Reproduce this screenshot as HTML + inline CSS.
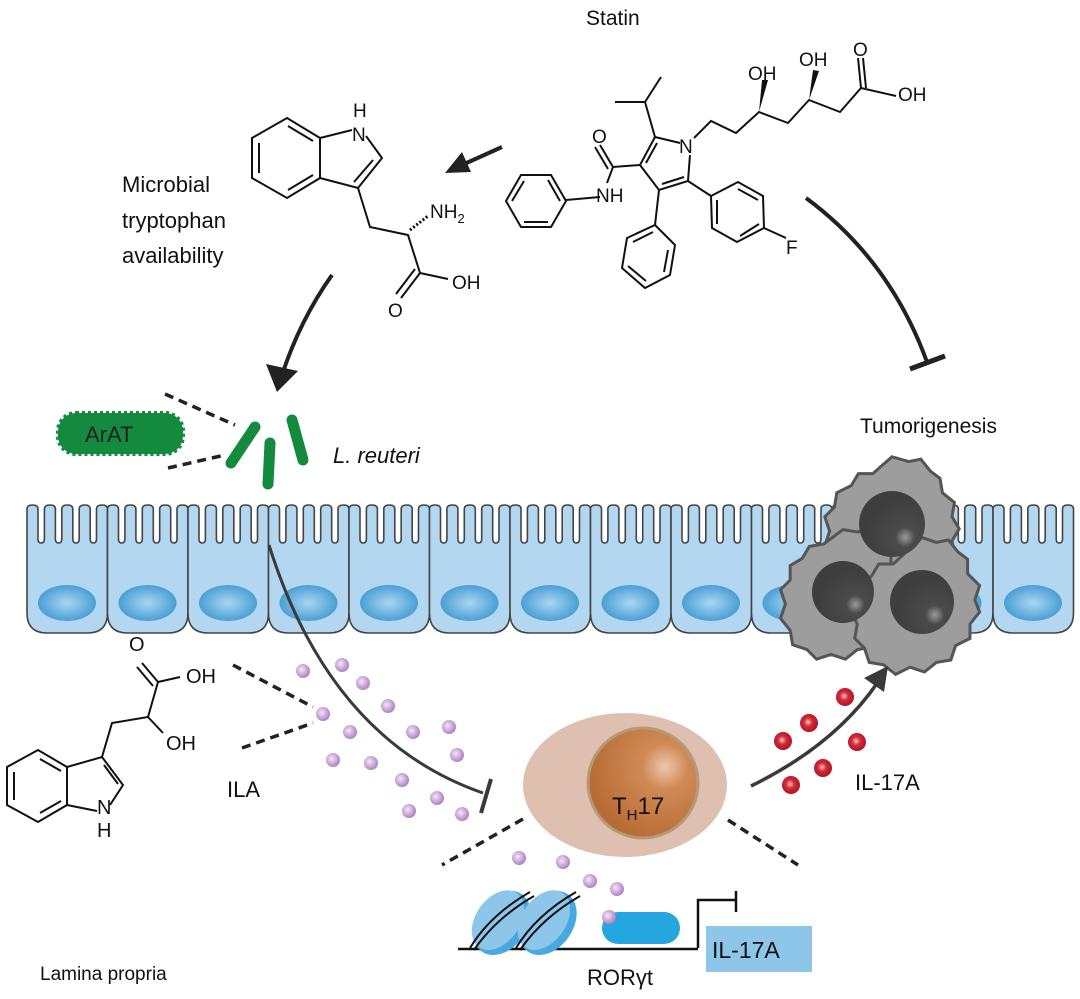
<!DOCTYPE html>
<html><head><meta charset="utf-8"><style>
html,body{margin:0;padding:0;background:#fff;}
svg{display:block;font-family:"Liberation Sans",Arial,sans-serif;}
</style></head><body>
<svg width="1080" height="999" viewBox="0 0 1080 999" xmlns="http://www.w3.org/2000/svg">
<defs>
<radialGradient id="nuc" cx="50%" cy="50%" r="50%"><stop offset="0" stop-color="#a9d6f2"/><stop offset="1" stop-color="#4a9fd4"/></radialGradient>
<radialGradient id="pur" cx="40%" cy="40%" r="60%"><stop offset="0" stop-color="#f3e6f6"/><stop offset="1" stop-color="#b081c3"/></radialGradient>
<radialGradient id="red" cx="45%" cy="45%" r="60%"><stop offset="0" stop-color="#f6c0c4"/><stop offset="0.4" stop-color="#d32a3a"/><stop offset="1" stop-color="#a8121e"/></radialGradient>
<radialGradient id="th" cx="70%" cy="35%" r="70%"><stop offset="0" stop-color="#ecc7ad"/><stop offset="0.3" stop-color="#cf8a55"/><stop offset="1" stop-color="#b86b34"/></radialGradient>
<radialGradient id="dk" cx="70%" cy="70%" r="60%"><stop offset="0" stop-color="#9a9a9a"/><stop offset="0.25" stop-color="#4a4a4a"/><stop offset="1" stop-color="#3e3e3e"/></radialGradient>
<g id="c0">
<path d="M0,108 L0,4 Q0,0 5.5,0 Q11,0 11,4 L11,34 Q11,38 14.2,38 Q17.4,38 17.4,34 L17.4,4 Q17.4,0 22.9,0 Q28.4,0 28.4,4 L28.4,34 Q28.4,38 31.6,38 Q34.8,38 34.8,34 L34.8,4 Q34.8,0 40.3,0 Q45.8,0 45.8,4 L45.8,34 Q45.8,38 49,38 Q52.2,38 52.2,34 L52.2,4 Q52.2,0 57.7,0 Q63.2,0 63.2,4 L63.2,34 Q63.2,38 66.4,38 Q69.5,38 69.5,34 L69.5,4 Q69.5,0 75,0 Q80.5,0 80.5,4 L80.5,108 Q80.5,128 60.5,128 L20,128 Q0,128 0,108 Z" fill="#b3d6f1" stroke="#444" stroke-width="1.6"/>
<ellipse cx="40" cy="98" rx="29" ry="18" fill="url(#nuc)"/>
</g>
</defs>

<use href="#c0" x="27" y="505"/>
<use href="#c0" x="107.5" y="505"/>
<use href="#c0" x="188" y="505"/>
<use href="#c0" x="268.5" y="505"/>
<use href="#c0" x="349" y="505"/>
<use href="#c0" x="429.5" y="505"/>
<use href="#c0" x="510" y="505"/>
<use href="#c0" x="590.5" y="505"/>
<use href="#c0" x="671" y="505"/>
<use href="#c0" x="751.5" y="505"/>
<use href="#c0" x="832" y="505"/>
<use href="#c0" x="912.5" y="505"/>
<use href="#c0" x="993" y="505"/>

<g stroke="#555" stroke-width="2.5" fill="#9d9d9d">
<g transform="translate(892,524) scale(1.2) translate(-892,-524)"><path d="M892,468 l14,4 10,-2 8,10 8,6 2,12 10,8 -2,12 6,10 -6,10 2,12 -10,8 -4,12 -12,4 -10,8 -12,-2 -12,6 -10,-6 -12,0 -8,-10 -10,-6 0,-12 -8,-10 4,-12 -4,-12 8,-8 2,-12 12,-6 6,-10 12,0 z"/></g>
<g transform="translate(843,592) scale(1.2) translate(-843,-592)"><path d="M843,540 l12,2 10,-2 8,10 10,6 0,12 8,10 -4,12 4,10 -8,10 0,12 -12,6 -4,10 -12,2 -10,8 -12,-4 -12,4 -8,-8 -12,-4 -2,-12 -8,-10 4,-12 -4,-12 8,-8 0,-12 10,-6 6,-10 12,-2 z"/></g>
<g transform="translate(922,600) scale(1.2) translate(-922,-600)"><path d="M922,548 l12,4 10,-2 8,10 8,6 0,12 10,10 -4,12 4,10 -8,10 0,12 -12,6 -4,12 -12,2 -10,8 -12,-4 -12,6 -10,-8 -12,-2 -4,-12 -8,-8 2,-12 -6,-12 8,-8 0,-12 10,-8 6,-10 12,0 z"/></g>
</g>
<circle cx="892" cy="524" r="33" fill="url(#dk)"/>
<circle cx="843" cy="592" r="31" fill="url(#dk)"/>
<circle cx="922" cy="602" r="32" fill="url(#dk)"/>

<g fill="url(#pur)">
<circle cx="303" cy="671" r="7"/><circle cx="342" cy="665" r="7"/><circle cx="363" cy="683" r="7"/><circle cx="388" cy="706" r="7"/><circle cx="323" cy="714" r="7"/><circle cx="350" cy="732" r="7"/><circle cx="413" cy="732" r="7"/><circle cx="449" cy="727" r="7"/><circle cx="457" cy="755" r="7"/><circle cx="333" cy="760" r="7"/><circle cx="371" cy="763" r="7"/><circle cx="402" cy="780" r="7"/><circle cx="437" cy="798" r="7"/><circle cx="409" cy="811" r="7"/><circle cx="462" cy="814" r="7"/>
<circle cx="519" cy="858" r="7"/><circle cx="563" cy="862" r="7"/><circle cx="590" cy="881" r="7"/><circle cx="617" cy="889" r="7"/>
</g>
<path d="M269,545 Q330,740 483,793" fill="none" stroke="#3a3a3a" stroke-width="3"/>
<line x1="491" y1="779" x2="481" y2="813" stroke="#3a3a3a" stroke-width="4"/>

<g stroke="#222" stroke-width="3.5" stroke-dasharray="9,6" fill="none">
<line x1="233" y1="665" x2="313" y2="707"/>
<line x1="242" y1="748" x2="313" y2="723"/>
<line x1="523" y1="819" x2="442" y2="865"/>
<line x1="728" y1="820" x2="798" y2="865"/>
<line x1="165" y1="394" x2="235" y2="425"/>
<line x1="168" y1="468" x2="225" y2="455"/>
</g>

<ellipse cx="625" cy="785" rx="102" ry="72" fill="#dfc0b0"/>
<circle cx="643" cy="783" r="55" fill="url(#th)" stroke="#b39b7a" stroke-width="3"/>
<text x="612" y="814" font-size="24" fill="#111">T<tspan font-size="15" dy="6">H</tspan><tspan dy="-6">17</tspan></text>

<path d="M751,786 Q835,745 878,682" fill="none" stroke="#3a3a3a" stroke-width="3.5"/>
<polygon points="888,666 864,678 884,692" fill="#3a3a3a"/>
<g fill="url(#red)">
<circle cx="845" cy="697" r="9"/><circle cx="809" cy="723" r="9"/><circle cx="783" cy="741" r="9"/><circle cx="823" cy="768" r="9"/><circle cx="791" cy="785" r="9"/><circle cx="857" cy="742" r="9"/>
</g>
<text x="855" y="790" font-size="22" fill="#111">IL-17A</text>

<line x1="458" y1="949" x2="698" y2="949" stroke="#111" stroke-width="2.5"/>
<g transform="rotate(35 502 923)"><ellipse cx="502" cy="923" rx="25" ry="35" fill="#4aa8e0"/><ellipse cx="497" cy="923" rx="22" ry="33" fill="#8ec6ea"/></g>
<g transform="rotate(35 548 923)"><ellipse cx="548" cy="923" rx="25" ry="35" fill="#4aa8e0"/><ellipse cx="543" cy="923" rx="22" ry="33" fill="#8ec6ea"/></g>
<g stroke="#111" stroke-width="2" fill="none">
<path d="M470,948 Q490,915 530,892"/><path d="M474,950 Q496,918 534,896"/>
<path d="M516,948 Q536,915 576,892"/><path d="M520,950 Q542,918 580,896"/>
</g>
<rect x="602" y="912" width="78" height="32" rx="16" fill="#24a6de"/>
<circle cx="609" cy="917" r="7" fill="url(#pur)"/>
<path d="M698,948 L698,900 L736,900" fill="none" stroke="#111" stroke-width="2.5"/>
<line x1="736" y1="891" x2="736" y2="912" stroke="#111" stroke-width="2.5"/>
<rect x="706" y="926" width="106" height="46" fill="#8ec6ea"/>
<text x="712" y="958" font-size="23" fill="#111">IL-17A</text>
<text x="587" y="985" font-size="22" fill="#111">RORγt</text>
<text x="40" y="980" font-size="19" fill="#111">Lamina propria</text>

<g stroke="#111" stroke-width="2" fill="none">
<polygon points="38,750 67,767 67,805 38,822 7,805 7,767"/>
<line x1="14" y1="772" x2="14" y2="800"/><line x1="40" y1="759" x2="61" y2="771"/><line x1="40" y1="813" x2="61" y2="801"/>
<polyline points="67,767 102,757 123,785 110,805"/>
<line x1="67" y1="805" x2="97" y2="811"/>
<line x1="104" y1="765" x2="118" y2="784"/>
<polyline points="102,757 112,723 148,717 158,682 180,677"/>
<line x1="148" y1="717" x2="163" y2="733"/>
<line x1="158" y1="682" x2="142" y2="663"/><line x1="153" y1="686" x2="137" y2="667"/>
</g>
<g font-size="20" fill="#111">
<text x="129" y="651">O</text><text x="186" y="683">OH</text><text x="166" y="750">OH</text>
<text x="97" y="814">N</text><text x="97" y="837">H</text>
</g>
<text x="227" y="797" font-size="22" fill="#111">ILA</text>

<rect x="58" y="413" width="125" height="41" rx="18" fill="#138a3e" stroke="#138a3e" stroke-width="4" stroke-dasharray="3,3"/>
<text x="85" y="442" font-size="22" fill="#222">ArAT</text>
<g stroke="#138a3e" stroke-width="11" stroke-linecap="round">
<line x1="255" y1="427" x2="231" y2="463"/>
<line x1="270" y1="443" x2="268" y2="484"/>
<line x1="292" y1="420" x2="303" y2="460"/>
</g>
<text x="333" y="463" font-size="22" font-style="italic" fill="#111">L. reuteri</text>

<g font-size="22" fill="#111">
<text x="122" y="192">Microbial</text>
<text x="122" y="228">tryptophan</text>
<text x="122" y="263">availability</text>
</g>
<text x="586" y="25" font-size="21" fill="#111">Statin</text>
<text x="860" y="433" font-size="21" fill="#111">Tumorigenesis</text>

<path d="M332,275 Q300,320 282,375" fill="none" stroke="#222" stroke-width="4"/>
<polygon points="277,392 266,364 298,371" fill="#222"/>
<line x1="502" y1="147" x2="462" y2="165" stroke="#222" stroke-width="4"/>
<polygon points="445,173 462,152 471,172" fill="#222"/>
<path d="M806,198 Q890,260 927,362" fill="none" stroke="#222" stroke-width="4"/>
<line x1="910" y1="369" x2="945" y2="356" stroke="#222" stroke-width="5"/>

<g stroke="#111" stroke-width="2" fill="none">
<polygon points="287,118 320,138 320,178 287,198 252,178 252,138"/>
<line x1="259" y1="143" x2="259" y2="173"/><line x1="288" y1="126" x2="313" y2="141"/><line x1="288" y1="190" x2="313" y2="175"/>
<polyline points="320,138 352,130"/><polyline points="366,136 382,158 358,188 320,178"/>
<line x1="373" y1="160" x2="354" y2="182"/>
<polyline points="358,188 370,227 408,235 420,273 448,279"/>
<line x1="420" y1="273" x2="401" y2="298"/><line x1="415" y1="269" x2="396" y2="294"/>
<line x1="410" y1="230" x2="428" y2="216" stroke-dasharray="2,2" stroke-width="3"/>
</g>
<g font-size="19" fill="#111">
<text x="352" y="141">N</text><text x="353" y="117">H</text>
<text x="430" y="218">NH<tspan font-size="13" dy="5">2</tspan></text>
<text x="452" y="289">OH</text><text x="388" y="317">O</text>
</g>

<g stroke="#111" stroke-width="2" fill="none">
<polyline points="655,137 680,143"/><polyline points="690,155 688,181 659,190 640,165 655,137"/>
<line x1="646" y1="163" x2="657" y2="143"/><line x1="662" y1="184" x2="684" y2="177"/>
<polyline points="655,137 645,102 615,102"/><line x1="645" y1="102" x2="661" y2="77"/>
<polyline points="640,165 613,167"/><line x1="613" y1="167" x2="600" y2="145"/><line x1="608" y1="169" x2="595" y2="147"/>
<line x1="613" y1="167" x2="607" y2="183"/>
<line x1="566" y1="200" x2="600" y2="197"/>
<polygon points="566,201 551,227 521,227 506,201 521,175 551,175"/>
<line x1="512" y1="201" x2="524" y2="181"/><line x1="524" y1="222" x2="548" y2="222"/><line x1="548" y1="180" x2="560" y2="201"/>
<line x1="659" y1="190" x2="655" y2="225"/>
<polygon points="655,225 675,245 670,275 645,288 622,268 627,238"/>
<line x1="633" y1="242" x2="653" y2="232"/><line x1="628" y1="266" x2="646" y2="281"/><line x1="668" y1="250" x2="664" y2="272"/>
<line x1="688" y1="181" x2="711" y2="196"/>
<polygon points="711,196 738,182 763,196 764,228 737,242 712,228"/>
<line x1="717" y1="200" x2="717" y2="224"/><line x1="738" y1="189" x2="758" y2="200"/><line x1="740" y1="236" x2="759" y2="224"/>
<line x1="764" y1="228" x2="786" y2="238"/>
<polyline points="694,138 711,121 736,133 759,112 788,123 809,100 840,112 861,88 896,96"/>
<line x1="861" y1="88" x2="858" y2="58"/><line x1="866" y1="88" x2="863" y2="58"/>
</g>
<polygon points="759,112 762,80 768,80" fill="#111"/>
<polygon points="809,100 813,70 819,71" fill="#111"/>
<g font-size="19" fill="#111">
<text x="679" y="153">N</text><text x="592" y="143">O</text><text x="596" y="202">NH</text>
<text x="786" y="254">F</text><text x="748" y="80">OH</text><text x="799" y="66">OH</text>
<text x="853" y="56">O</text><text x="898" y="101">OH</text>
</g>
</svg>
</body></html>
